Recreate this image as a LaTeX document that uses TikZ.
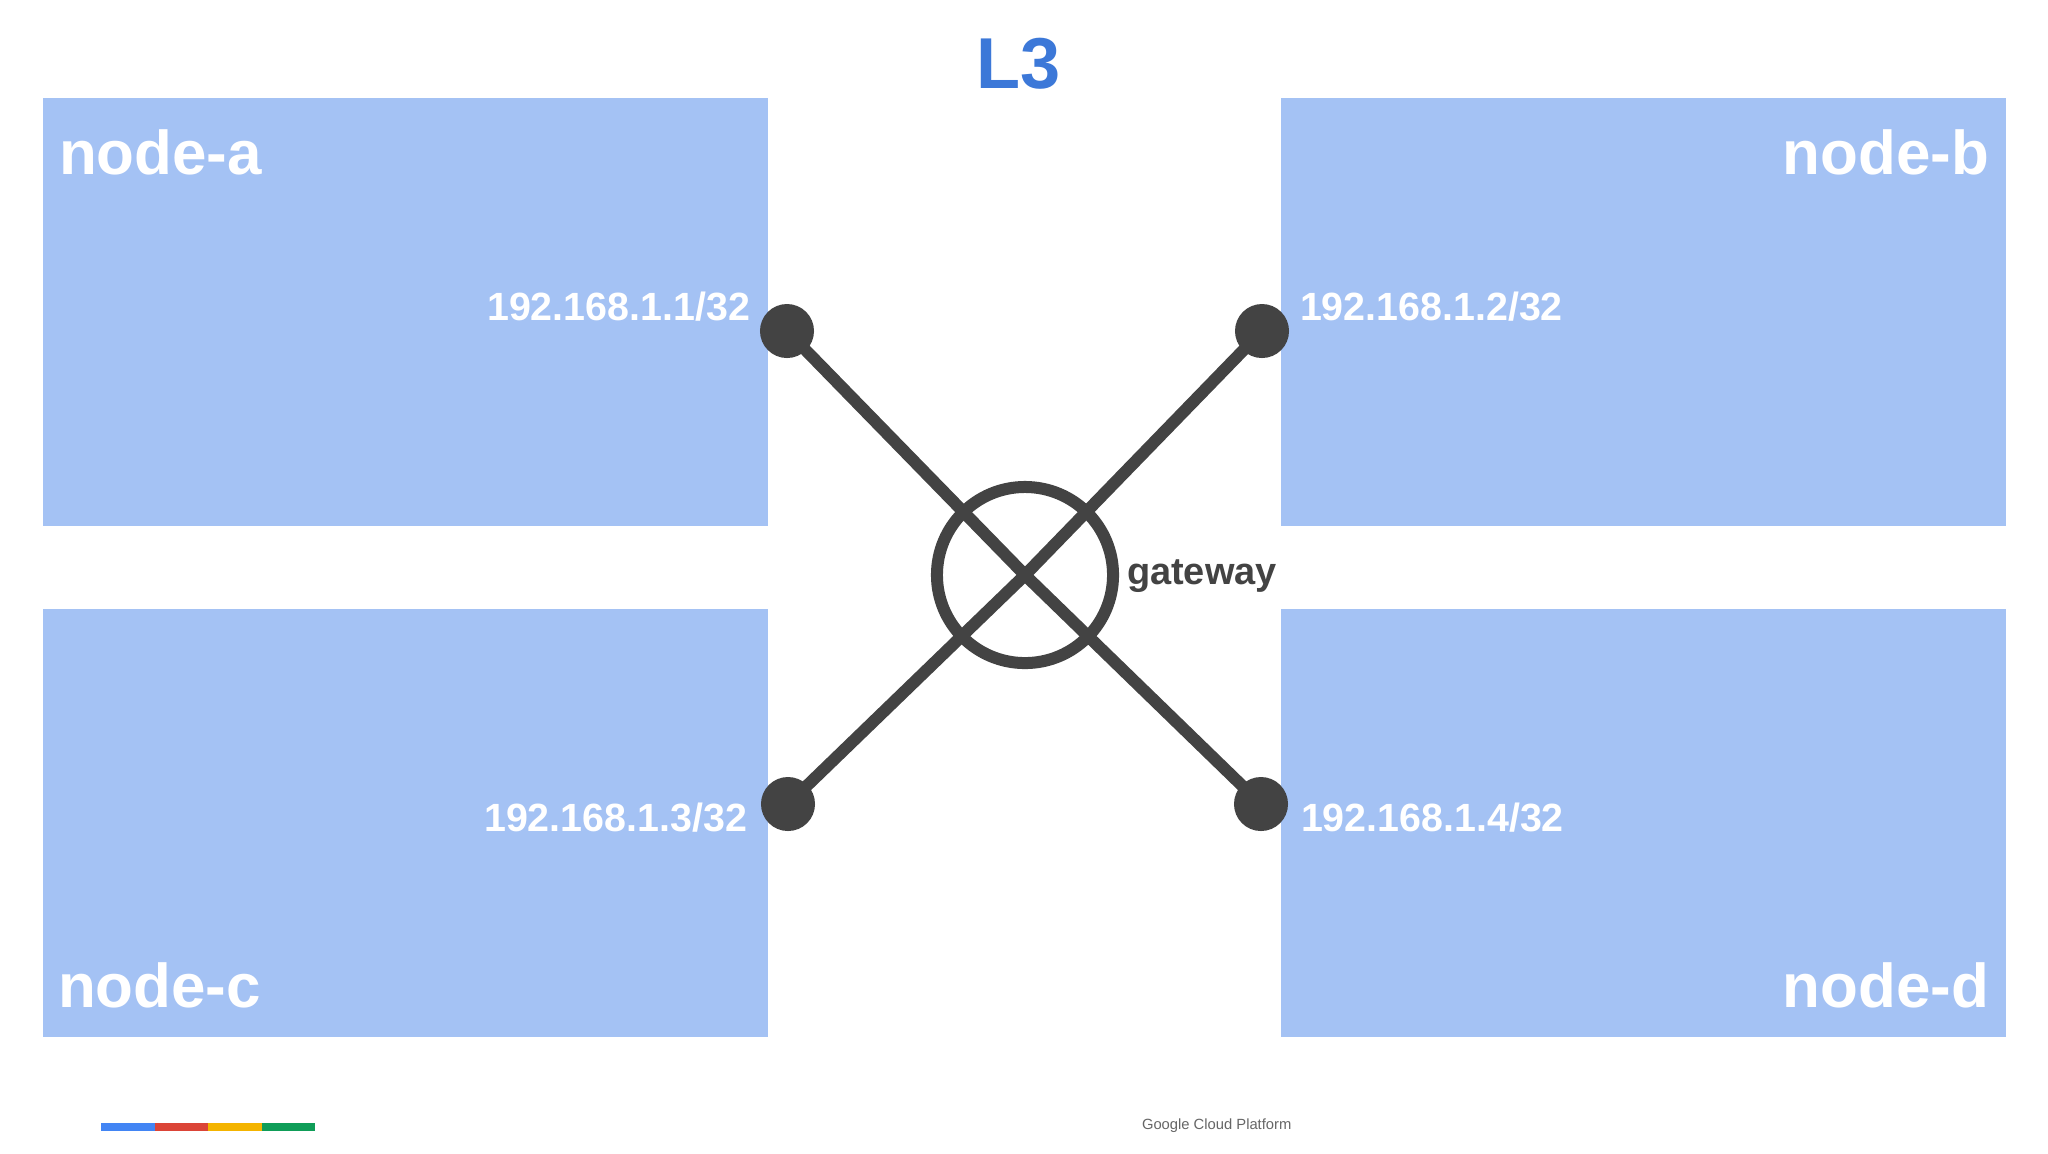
\documentclass[tikz,border=0pt]{standalone}
\usepackage{fontspec}
\setmainfont{Liberation Sans}
\usetikzlibrary{positioning}

\definecolor{boxblue}{HTML}{A4C2F4}
\definecolor{linegray}{HTML}{434343}
\definecolor{titleblue}{HTML}{3C78D8}
\definecolor{footgray}{HTML}{666666}
\definecolor{gblue}{HTML}{4285F4}
\definecolor{gred}{HTML}{DB4437}
\definecolor{gyellow}{HTML}{F4B400}
\definecolor{ggreen}{HTML}{0F9D58}

\begin{document}
\begin{tikzpicture}[x=0.01cm,y=-0.01cm,inner sep=0pt,outer sep=0pt,
	hostbox/.style={rectangle,fill=boxblue,minimum width=7.25cm,minimum height=4.28cm},
	hostname/.style={text=white,font=\fontsize{17.6}{20}\selectfont\bfseries},
	iplabel/.style={text=white,font=\fontsize{11.2}{13}\selectfont\bfseries},
	port/.style={circle,fill=linegray,minimum size=0.54cm},
	gwring/.style={circle,draw=linegray,line width=0.12cm,minimum size=1.76cm},
	link/.style={draw=linegray,line width=0.12cm}]
	\useasboundingbox[fill=white] (0,0) rectangle (2048,1153);

	% hosts
	\node[hostbox] (nodeA) at (405.5,312) {};
	\node[hostbox] (nodeB) at (1643.5,312) {};
	\node[hostbox] (nodeC) at (405.5,823) {};
	\node[hostbox] (nodeD) at (1643.5,823) {};

	\node[hostname,anchor=base west] (nameA) at (59,174) {node-a};
	\node[hostname,anchor=base east] (nameB) at (1989,174) {node-b};
	\node[hostname,anchor=base west] (nameC) at (58,1007) {node-c};
	\node[hostname,anchor=base east] (nameD) at (1989,1007) {node-d};

	\node[iplabel,anchor=base east] (ipA) at (750,320) {192.168.1.1/32};
	\node[iplabel,anchor=base west] (ipB) at (1300,320) {192.168.1.2/32};
	\node[iplabel,anchor=base east] (ipC) at (747,831) {192.168.1.3/32};
	\node[iplabel,anchor=base west] (ipD) at (1301,831) {192.168.1.4/32};

	% gateway
	\node[port] (pA) at (787,331) {};
	\node[port] (pB) at (1262,331) {};
	\node[port] (pC) at (788,804) {};
	\node[port] (pD) at (1261,804) {};
	\node[gwring] (gw) at (1025,575) {};
	\node[anchor=base west,text=linegray,font=\fontsize{10.8}{13}\selectfont\bfseries] (gwname) at (1127,584) {gateway};

	\path[link] (pA.center) -- (gw.center) -- (pD.center);
	\path[link] (pB.center) -- (gw.center) -- (pC.center);

	\node[anchor=base,text=titleblue,font=\fontsize{20.5}{24}\selectfont\bfseries] (title) at (1019,88) {L3};

	% footer
	\foreach \c [count=\i from 0] in {gblue,gred,gyellow,ggreen}
		\fill[\c] (101+\i*53.5,1123) rectangle ++(53.5,8);
	\node[anchor=base west,text=footgray,font=\fontsize{4.2}{5}\selectfont] (gcp) at (1142,1129) {Google Cloud Platform};
\end{tikzpicture}
\end{document}
